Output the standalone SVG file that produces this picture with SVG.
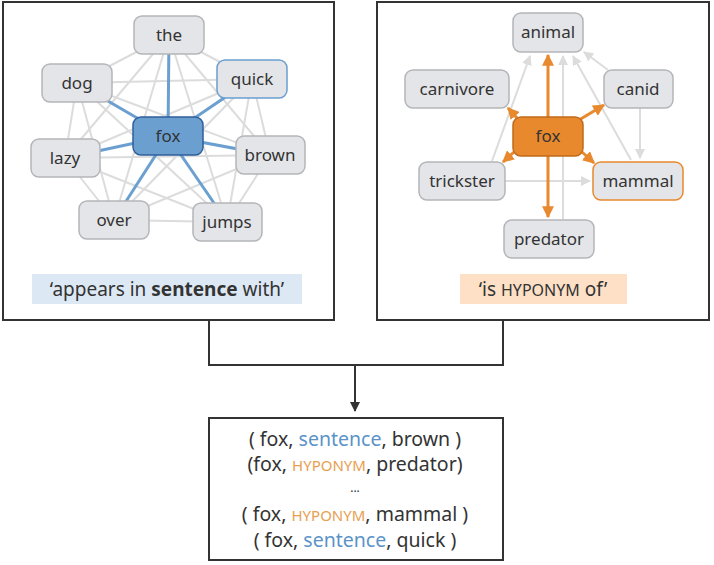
<svg xmlns="http://www.w3.org/2000/svg" width="714" height="565" viewBox="0 0 714 565">
<style>
text{font-family:"Noto Sans","Open Sans",sans-serif;fill:#333;text-anchor:middle}
.n rect{fill:#e4e5e8;stroke:#b4b5b8;stroke-width:1.5}
.n text{font-size:17px}
.g line{stroke:#dcdcdc;stroke-width:2}
.b line{stroke:#6a9fd0;stroke-width:3}
.o line{stroke:#e8892e;stroke-width:3}
.frame{fill:#fff;stroke:#333;stroke-width:2}
</style>
<defs>
<marker id="ao" viewBox="0 0 10 10" refX="9" refY="5" markerWidth="4" markerHeight="4" orient="auto"><path d="M0,0L10,5L0,10z" fill="#e8892e"/></marker>
<marker id="ag" viewBox="0 0 10 10" refX="9" refY="5" markerWidth="5" markerHeight="5" orient="auto"><path d="M0,0L10,5L0,10z" fill="#dcdcdc"/></marker>
<marker id="ak" viewBox="0 0 10 10" refX="9" refY="5" markerWidth="5" markerHeight="5" orient="auto"><path d="M0,0L10,5L0,10z" fill="#333"/></marker>
</defs>
<rect class="frame" x="3" y="2" width="331" height="318"/>
<rect class="frame" x="377" y="2" width="332" height="318"/>
<g id="connectors" fill="none">
<g class="g">
<line x1="169" y1="35" x2="77" y2="83"/><line x1="169" y1="35" x2="252" y2="79"/><line x1="169" y1="35" x2="65" y2="158"/><line x1="169" y1="35" x2="270" y2="155"/><line x1="169" y1="35" x2="114" y2="220"/><line x1="169" y1="35" x2="227" y2="222"/>
<line x1="77" y1="83" x2="252" y2="79"/><line x1="77" y1="83" x2="65" y2="158"/><line x1="77" y1="83" x2="270" y2="155"/><line x1="77" y1="83" x2="114" y2="220"/><line x1="77" y1="83" x2="227" y2="222"/>
<line x1="252" y1="79" x2="65" y2="158"/><line x1="252" y1="79" x2="270" y2="155"/><line x1="252" y1="79" x2="114" y2="220"/><line x1="252" y1="79" x2="227" y2="222"/>
<line x1="65" y1="158" x2="270" y2="155"/><line x1="65" y1="158" x2="114" y2="220"/><line x1="65" y1="158" x2="227" y2="222"/>
<line x1="270" y1="155" x2="114" y2="220"/><line x1="270" y1="155" x2="227" y2="222"/>
<line x1="114" y1="220" x2="227" y2="222"/>
</g>
<g class="b">
<line x1="168" y1="136" x2="169" y2="35"/><line x1="168" y1="136" x2="77" y2="83"/><line x1="168" y1="136" x2="252" y2="79"/><line x1="168" y1="136" x2="65" y2="158"/><line x1="168" y1="136" x2="270" y2="155"/><line x1="168" y1="136" x2="114" y2="220"/><line x1="168" y1="136" x2="227" y2="222"/>
</g>
<g class="g">
<line x1="492" y1="161" x2="530" y2="56" marker-end="url(#ag)"/>
<line x1="563" y1="219" x2="563" y2="56" marker-end="url(#ag)"/>
<line x1="631" y1="160" x2="573" y2="56" marker-end="url(#ag)"/>
<line x1="608" y1="70" x2="584" y2="52" marker-end="url(#ag)"/>
<line x1="640" y1="108" x2="640" y2="158" marker-end="url(#ag)"/>
<line x1="505" y1="181" x2="590" y2="181" marker-end="url(#ag)"/>
</g>
<g class="o">
<line x1="548" y1="117" x2="548" y2="55" marker-end="url(#ao)"/>
<line x1="548" y1="156" x2="548" y2="217" marker-end="url(#ao)"/>
<line x1="517" y1="118" x2="508" y2="108" marker-end="url(#ao)"/>
<line x1="579" y1="120" x2="604" y2="105" marker-end="url(#ao)"/>
<line x1="514" y1="152" x2="503" y2="162" marker-end="url(#ao)"/>
<line x1="582" y1="152" x2="594" y2="163" marker-end="url(#ao)"/>
</g>
<path d="M209,320V365H503V320" stroke="#333" stroke-width="2"/>
<line x1="355" y1="365" x2="355" y2="411" stroke="#333" stroke-width="2" marker-end="url(#ak)"/>
</g>
<g id="n-the" class="n"><rect x="134" y="16" width="70" height="38" rx="8"/><text x="169" y="41">the</text></g>
<g id="n-dog" class="n"><rect x="42" y="64" width="70" height="38" rx="8"/><text x="77" y="89">dog</text></g>
<g id="n-quick" class="n"><rect x="217" y="60" width="70" height="38" rx="8" style="stroke:#6a9fd0"/><text x="252" y="85">quick</text></g>
<g id="n-lazy" class="n"><rect x="31" y="139" width="69" height="38" rx="8"/><text x="65" y="164">lazy</text></g>
<g id="n-brown" class="n"><rect x="236" y="136" width="69" height="38" rx="8"/><text x="270" y="161">brown</text></g>
<g id="n-over" class="n"><rect x="79" y="201" width="70" height="38" rx="8"/><text x="114" y="226">over</text></g>
<g id="n-jumps" class="n"><rect x="193" y="203" width="69" height="38" rx="8"/><text x="227" y="228">jumps</text></g>
<g id="n-fox1" class="n"><rect x="133" y="117" width="70" height="38" rx="8" style="fill:#6a9fd0;stroke:#2f5f9a"/><text x="168" y="142">fox</text></g>
<g id="label1"><rect x="32" y="274" width="270" height="30" fill="#dde8f5"/><text x="167" y="296" style="font-size:19px">‘appears in <tspan font-weight="bold">sentence</tspan> with’</text></g>
<g id="n-animal" class="n"><rect x="513" y="13" width="70" height="39" rx="8"/><text x="548" y="38">animal</text></g>
<g id="n-carnivore" class="n"><rect x="405" y="70" width="104" height="38" rx="8"/><text x="457" y="95">carnivore</text></g>
<g id="n-canid" class="n"><rect x="604" y="70" width="69" height="38" rx="8"/><text x="638" y="95">canid</text></g>
<g id="n-trickster" class="n"><rect x="419" y="162" width="86" height="38" rx="8"/><text x="462" y="187">trickster</text></g>
<g id="n-mammal" class="n"><rect x="593" y="162" width="90" height="38" rx="8" style="stroke:#e8892e"/><text x="638" y="187">mammal</text></g>
<g id="n-predator" class="n"><rect x="504" y="220" width="90" height="38" rx="8"/><text x="549" y="245">predator</text></g>
<g id="n-fox2" class="n"><rect x="513" y="117" width="70" height="39" rx="8" style="fill:#e8892e;stroke:#c06a1a"/><text x="548" y="142">fox</text></g>
<g id="label2"><rect x="460" y="274" width="167" height="30" fill="#fde0c6"/><text x="543" y="296" style="font-size:19px">‘is <tspan font-size="16">HYPONYM</tspan> of’</text></g>
<g id="result"><rect class="frame" x="209" y="418" width="294" height="142"/>
<g style="font-size:19.5px">
<text x="355" y="446">( fox, <tspan fill="#5b93c8">sentence</tspan>, brown )</text>
<text x="355" y="471">(fox, <tspan fill="#e8a050" font-size="15">HYPONYM</tspan>, predator)</text>
<text x="355" y="492" font-size="12">...</text>
<text x="355" y="521">( fox, <tspan fill="#e8a050" font-size="15">HYPONYM</tspan>, mammal )</text>
<text x="355" y="547">( fox, <tspan fill="#5b93c8">sentence</tspan>, quick )</text>
</g></g>
</svg>
